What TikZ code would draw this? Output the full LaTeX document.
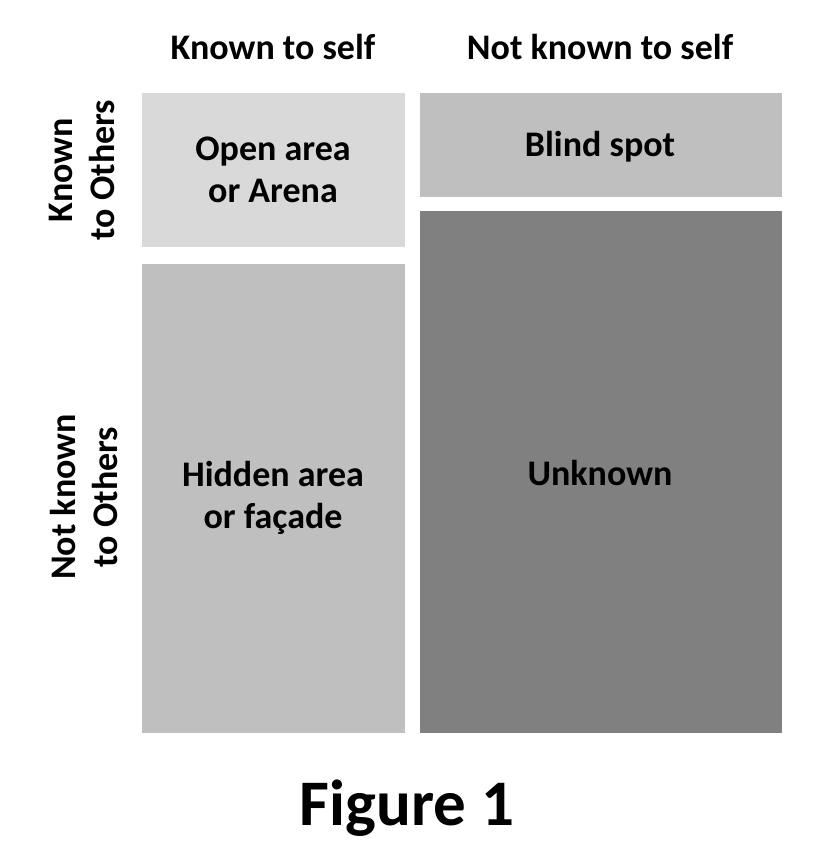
\documentclass[tikz,border=0pt]{standalone}
\usepackage{fontspec}
\setmainfont{Carlito}
\begin{document}
\begin{tikzpicture}[x=1pt,y=-1pt,
  cell/.style={draw=none},
  lbl/.style={font=\fontsize{36}{42}\selectfont\bfseries,align=center,text=black},
  sidelbl/.style={lbl,rotate=90}]
\useasboundingbox[fill=white] (0,0) rectangle (814,856);
\fill[cell,fill=black!15] (142,93) rectangle (405,247);
\fill[cell,fill=black!25] (420,93) rectangle (782,197);
\fill[cell,fill=black!25] (142,264) rectangle (405,733);
\fill[cell,fill=black!50] (420,211) rectangle (782,733);
\node[lbl] (h1) at (273,47) {Known to self};
\node[lbl] (h2) at (600,47) {Not known to self};
\node[sidelbl] (s1) at (82,170) {Known\\to Others};
\node[sidelbl] (s2) at (84,497) {Not known\\to Others};
\node[lbl] (open) at (273,170) {Open area\\or Arena};
\node[lbl] (blind) at (600,147) {Blind spot};
\node[lbl] (hidden) at (273,498) {Hidden area\\or façade};
\node[lbl] (unk) at (600,473) {Unknown};
\node[font=\fontsize{65}{72}\selectfont\bfseries] (fig) at (407,808) {Figure 1};
\end{tikzpicture}
\end{document}
